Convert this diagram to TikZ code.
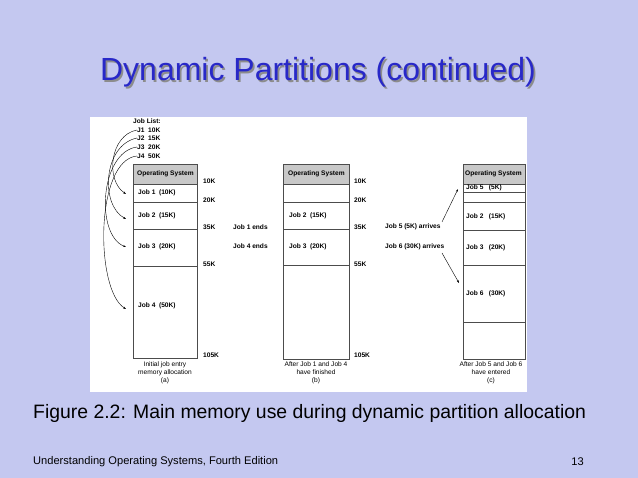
\documentclass[tikz,border=0pt]{standalone}
\usepackage{fontspec}
\setmainfont{Liberation Sans}
\usetikzlibrary{arrows.meta}
\definecolor{bg}{RGB}{196,200,240}
\definecolor{ttl}{RGB}{40,40,200}
\definecolor{osg}{RGB}{200,200,200}
\begin{document}
\begin{tikzpicture}[x=1pt,y=-1pt,
  t/.style={font=\fontsize{6.6}{7.5}\selectfont\bfseries,inner sep=0pt,anchor=west},
  c/.style={font=\fontsize{6.6}{7.6}\selectfont,inner sep=0pt,align=center,anchor=north},
  mem/.style={draw=black!70,line width=0.5pt},
  ar/.style={-{Stealth[length=3pt,width=2pt]},line width=0.4pt}]
\fill[bg] (0,0) rectangle (638,478);
\useasboundingbox (0,0) rectangle (638,478);
\node[font=\fontsize{32}{36}\selectfont,text=ttl] (title) at (318,73) {\makebox[0pt]{\hspace{3.4pt}\raisebox{-1.7pt}{\textcolor{black!45}{Dynamic Partitions (continued)}}}\makebox[0pt]{Dynamic Partitions (continued)}};
\fill[white] (90,117) rectangle (527,392);
% (a)
\fill[osg] (133,164) rectangle (197,184);
\draw[mem] (133,164) rectangle (197,358);
\foreach \y in {184,202,229,266} \draw[mem] (133,\y) -- (197,\y);
\node[t] (os1) at (137,174) {Operating System};
\node[t] (j1) at (138,193) {Job 1\ \ (10K)};
\node[t] (j2) at (138,216) {Job 2\ \ (15K)};
\node[t] (j3) at (138,247) {Job 3\ \ (20K)};
\node[t] (j4) at (138,306) {Job 4\ \ (50K)};
\node[t] at (203,181) {10K};
\node[t] at (203,200) {20K};
\node[t] at (203,227) {35K};
\node[t] at (203,264) {55K};
\node[t] at (203,355) {105K};
\node[c] at (165,362) {Initial job entry\\memory allocation\\(a)};
\node[t] (jl) at (133,121) {Job List:};
\node[t] (l1) at (137,130) {J1\ \ 10K};
\node[t] (l2) at (137,138) {J2\ \ 15K};
\node[t] (l3) at (137,147) {J3\ \ 20K};
\node[t] (l4) at (137,156) {J4\ \ 50K};
\coordinate (e1) at (126,194);
\coordinate (e2) at (126,219);
\coordinate (e3) at (126,247);
\coordinate (e4) at (126,309);
\draw[ar] (l1.west) .. controls (110,135) and (105,180) .. (e1);
\draw[ar] (l2.west) .. controls (103,145) and (100,205) .. (e2);
\draw[ar] (l3.west) .. controls (100,152) and (95,235) .. (e3);
\draw[ar] (l4.west) .. controls (95,160) and (95,290) .. (e4);
\node[t] (e1t) at (233,227) {Job 1 ends};
\node[t] (e4t) at (233,246) {Job 4 ends};
% (b)
\fill[osg] (283,164) rectangle (349,184);
\draw[mem] (283,164) rectangle (349,359);
\foreach \y in {184,202,229,265} \draw[mem] (283,\y) -- (349,\y);
\node[t] at (288,174) {Operating System};
\node[t] at (289,216) {Job 2\ \ (15K)};
\node[t] at (289,247) {Job 3\ \ (20K)};
\node[t] at (354,181) {10K};
\node[t] at (354,200) {20K};
\node[t] at (354,227) {35K};
\node[t] at (354,264) {55K};
\node[t] at (354,355) {105K};
\node[c] at (316,362) {After Job 1 and Job 4\\have finished\\(b)};
\node[t] (a5) at (385,227) {Job 5 (5K) arrives};
\node[t] (a6) at (385,247) {Job 6 (30K) arrives};
% (c)
\fill[osg] (463,164) rectangle (525,184);
\draw[mem] (463,164) rectangle (525,359);
\foreach \y in {184,192,202,230,265,322} \draw[mem] (463,\y) -- (525,\y);
\node[t] at (465,174) {Operating System};
\node[t] at (466,188) {Job 5\ \ \ (5K)};
\node[t] at (466,217) {Job 2\ \ \ (15K)};
\node[t] at (466,248) {Job 3\ \ \ (20K)};
\node[t] at (466,294) {Job 6\ \ \ (30K)};
\node[c] at (491,362) {After Job 5 and Job 6\\have entered\\(c)};
\coordinate (t5) at (458,189);
\coordinate (t6) at (459,283);
\draw[ar] (442,222) -- (t5);
\draw[ar] (442,253) -- (t6);
\node[font=\fontsize{19.4}{22}\selectfont,anchor=west,inner sep=0pt] (cap) at (33,413) {Figure 2.2: Main memory use during dynamic partition allocation};
\node[font=\fontsize{11.1}{13}\selectfont,anchor=west,inner sep=0pt] (ft) at (33,462) {Understanding Operating Systems, Fourth Edition};
\node[font=\fontsize{11.1}{13}\selectfont,anchor=east,inner sep=0pt] (pg) at (584,462) {13};
\end{tikzpicture}
\end{document}
